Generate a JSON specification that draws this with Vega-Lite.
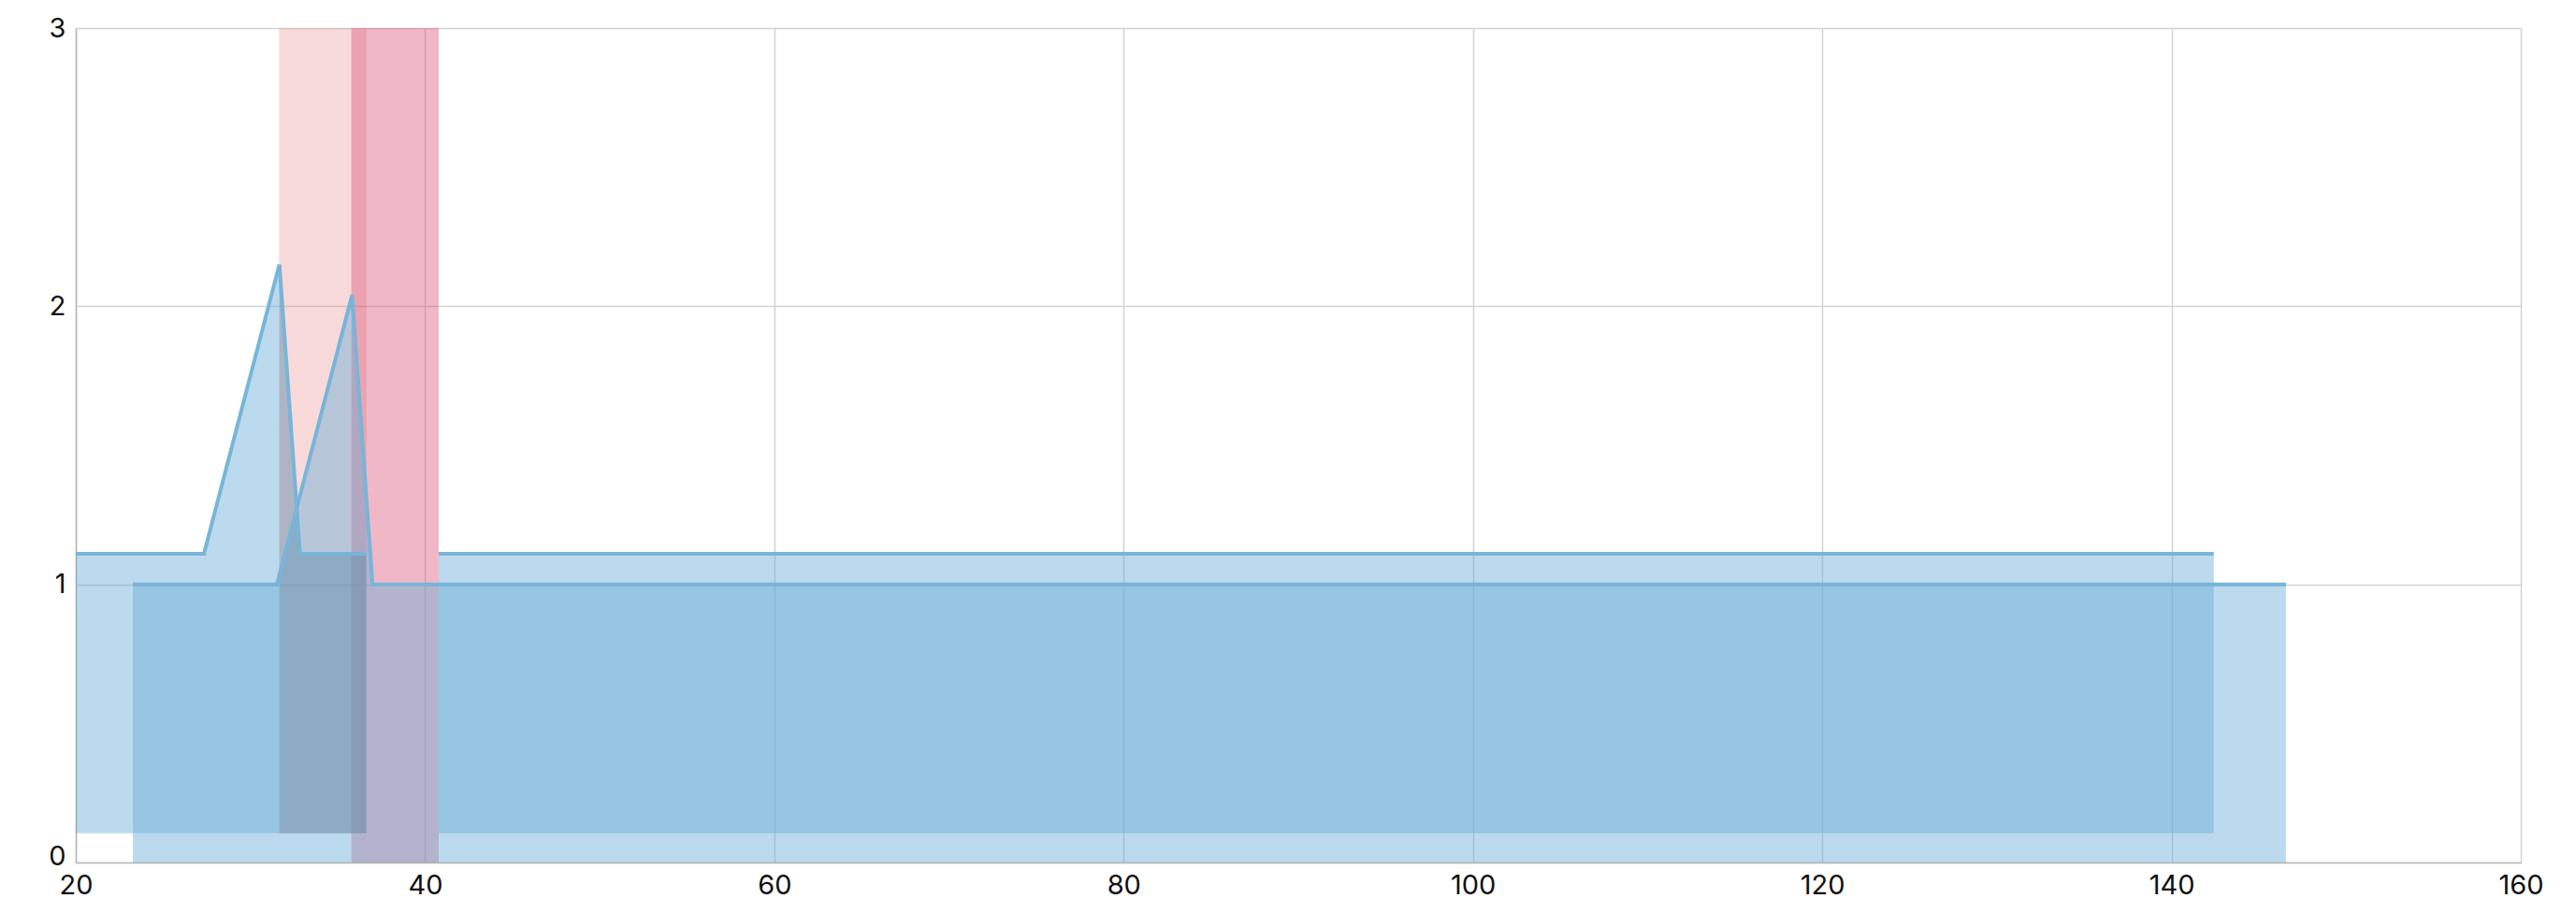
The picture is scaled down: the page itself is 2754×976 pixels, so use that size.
{
  "$schema": "https://vega.github.io/schema/vega-lite/v6.json",
  "width": 2614,
  "height": 892,
  "autosize": {"type": "none"},
  "padding": {"left": 81, "top": 30, "right": 59, "bottom": 54},
  "background": "white",
  "config": {
    "view": {"stroke": null},
    "font": "Inter",
    "axis": {
      "labelFont": "Inter",
      "labelFontSize": 29,
      "labelColor": "#111111",
      "labelFlush": false,
      "gridColor": "#d2d2d2",
      "gridWidth": 1.5,
      "domainColor": "#b8b8b8",
      "domainWidth": 1.5,
      "ticks": false,
      "tickSize": 0,
      "title": null
    }
  },
  "datasets": {
    "bands": [
      {"band": "p1", "x": 31.64, "x2": 36.64, "y": 3, "y2": 0.105},
      {"band": "p2", "x": 35.78, "x2": 40.78, "y": 3, "y2": 0}
    ],
    "series": [
      {"series": "s1", "seg": "s1a", "state": "normal", "x": 20, "y": 1.11, "y0": 0.105},
      {"series": "s1", "seg": "s1a", "state": "normal", "x": 27.34, "y": 1.11, "y0": 0.105},
      {"series": "s1", "seg": "s1a", "state": "normal", "x": 31.66, "y": 2.15, "y0": 0.105},
      {"series": "s1", "seg": "s1b", "state": "selected", "x": 31.66, "y": 2.15, "y0": 0.105},
      {"series": "s1", "seg": "s1b", "state": "selected", "x": 32.84, "y": 1.11, "y0": 0.105},
      {"series": "s1", "seg": "s1b", "state": "selected", "x": 36.64, "y": 1.11, "y0": 0.105},
      {"series": "s1", "seg": "s1c", "state": "normal", "x": 40.78, "y": 1.11, "y0": 0.105},
      {"series": "s1", "seg": "s1c", "state": "normal", "x": 142.42, "y": 1.11, "y0": 0.105},
      {"series": "s2", "seg": "s2a", "state": "normal", "x": 23.27, "y": 1.0, "y0": 0},
      {"series": "s2", "seg": "s2a", "state": "normal", "x": 31.52, "y": 1.0, "y0": 0},
      {"series": "s2", "seg": "s2a", "state": "normal", "x": 35.82, "y": 2.04, "y0": 0},
      {"series": "s2", "seg": "s2a", "state": "normal", "x": 36.99, "y": 1.0, "y0": 0},
      {"series": "s2", "seg": "s2a", "state": "normal", "x": 146.55, "y": 1.0, "y0": 0}
    ]
  },
  "layer": [
    {
      "data": {"name": "bands"},
      "mark": {"type": "rect"},
      "encoding": {
        "x": {
          "field": "x",
          "type": "quantitative",
          "scale": {"domain": [20, 160], "nice": false, "zero": false},
          "axis": {"values": [20, 40, 60, 80, 100, 120, 140, 160], "labelPadding": 10, "grid": true, "format": "d"}
        },
        "y": {
          "field": "y",
          "type": "quantitative",
          "scale": {"domain": [0, 3], "nice": false},
          "axis": {
            "values": [0, 1, 2, 3],
            "labelPadding": 11,
            "grid": true,
            "labelBaseline": "middle",
            "format": "d",
            "labelOffset": {"condition": {"test": "datum.value == 0", "value": -7}, "value": 0}
          }
        },
        "x2": {"field": "x2"},
        "y2": {"field": "y2"},
        "color": {
          "field": "band",
          "type": "nominal",
          "scale": {"domain": ["p1", "p2"], "range": ["#e88484", "#da4e71"]},
          "legend": null
        },
        "opacity": {
          "field": "band",
          "type": "nominal",
          "scale": {"domain": ["p1", "p2"], "range": [0.3, 0.4]},
          "legend": null
        }
      }
    },
    {
      "data": {"name": "series"},
      "transform": [{"filter": "datum.state == 'normal'"}],
      "mark": {"type": "area", "color": "#6baed6", "opacity": 0.45},
      "encoding": {
        "x": {"field": "x", "type": "quantitative"},
        "y": {"field": "y", "type": "quantitative"},
        "y2": {"field": "y0"},
        "detail": {"field": "seg", "type": "nominal"}
      }
    },
    {
      "data": {"name": "series"},
      "transform": [{"filter": "datum.state == 'selected'"}],
      "mark": {"type": "area", "color": "#6290b0", "opacity": 0.5},
      "encoding": {
        "x": {"field": "x", "type": "quantitative"},
        "y": {"field": "y", "type": "quantitative"},
        "y2": {"field": "y0"},
        "detail": {"field": "seg", "type": "nominal"}
      }
    },
    {
      "data": {"name": "series"},
      "mark": {"type": "line", "color": "#78b5d9", "strokeWidth": 4, "strokeJoin": "miter"},
      "encoding": {
        "x": {"field": "x", "type": "quantitative"},
        "y": {"field": "y", "type": "quantitative"},
        "detail": {"field": "seg", "type": "nominal"}
      }
    }
  ]
}
